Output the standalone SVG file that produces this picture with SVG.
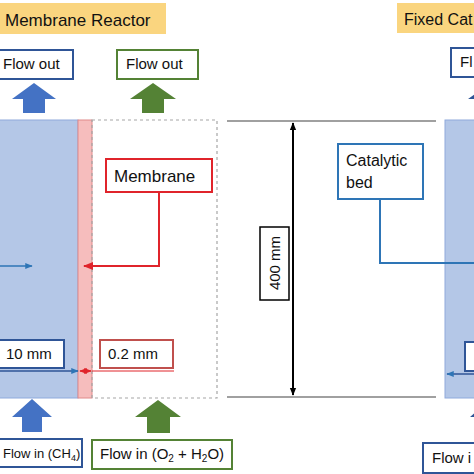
<svg xmlns="http://www.w3.org/2000/svg" width="474" height="474" viewBox="0 0 474 474">
<style>
text{font-family:"Liberation Sans",Arial,sans-serif;fill:#111;}
.lbl{font-size:15px;}
.title{fill:#FAD57F;}
.bx{fill:#fff;stroke-width:2;}
.blue{stroke:#2F5597;}
.lblue{stroke:#2E75B6;}
.green{stroke:#548235;}
.red{stroke:#E0242B;}
.dred{stroke:#C0504D;}
.bed{fill:#B4C7E7;stroke:#8FAADC;stroke-width:1;}
.grey{stroke:#808080;stroke-width:1.5;fill:none;}
</style>
<defs>
<marker id="ab" viewBox="0 0 10 10" refX="9" refY="5" markerWidth="5" markerHeight="5" orient="auto-start-reverse"><path d="M0,1 L10,5 L0,9 z" fill="#2E75B6"/></marker>
<marker id="ar" viewBox="0 0 10 10" refX="9" refY="5" markerWidth="5" markerHeight="5" orient="auto-start-reverse"><path d="M0,1 L10,5 L0,9 z" fill="#E0242B"/></marker>
<marker id="ak" viewBox="0 0 10 10" refX="9" refY="5" markerWidth="4" markerHeight="4" orient="auto-start-reverse"><path d="M0,1 L10,5 L0,9 z" fill="#000"/></marker>
</defs>

<g id="reactor-left">
<rect x="-2" y="120" width="80" height="278" class="bed"/>
<rect x="78" y="120" width="14" height="278" fill="#F6BDBD" stroke="#E08A8A" stroke-width="1"/>
<rect x="92" y="120" width="125" height="278" fill="none" stroke="#A6A6A6" stroke-width="1.2" stroke-dasharray="3,3"/>
</g>
<g id="reactor-right">
<rect x="445" y="120" width="40" height="278" class="bed"/>
</g>

<g id="title-membrane"><rect x="-2" y="3" width="168" height="31" class="title"/><text x="5" y="26" style="font-size:17px">Membrane Reactor</text></g>
<g id="title-fixed"><rect x="397" y="3" width="90" height="30" class="title"/><text x="404" y="25" style="font-size:16px">Fixed Cat</text></g>

<g id="flowout-blue"><rect x="-5" y="50" width="78" height="29" class="bx blue"/><text x="3" y="69" class="lbl">Flow out</text></g>
<g id="flowout-green"><rect x="117" y="50" width="81" height="29" class="bx green"/><text x="126" y="69" class="lbl">Flow out</text></g>
<g id="flowout-right"><rect x="451" y="48" width="40" height="29" class="bx blue"/><text x="460" y="67" class="lbl">Fl</text></g>

<g id="membrane-label"><rect x="106" y="159" width="106" height="33" class="bx red"/><text x="114" y="182" style="font-size:17px">Membrane</text></g>
<g id="catalytic-label"><rect x="338" y="144" width="85" height="55" class="bx lblue"/><text x="346" y="166" style="font-size:16px">Catalytic</text><text x="346" y="188" style="font-size:16px">bed</text></g>
<g id="dim-400"><rect x="260" y="227" width="29" height="73" fill="#fff" stroke="#000" stroke-width="1.5"/><text transform="translate(280,263) rotate(-90)" text-anchor="middle" class="lbl">400 mm</text></g>
<g id="dim-10"><rect x="-5" y="340" width="69" height="28" class="bx blue"/><text x="6" y="359" class="lbl">10 mm</text></g>
<g id="dim-02"><rect x="100" y="340" width="73" height="28" class="bx dred"/><text x="108" y="359" class="lbl">0.2 mm</text></g>
<g id="dim-right"><rect x="465" y="342" width="30" height="29" class="bx blue"/></g>

<g id="flowin-blue"><rect x="-40" y="439" width="122" height="28" class="bx blue"/><text x="3" y="458" style="font-size:13px">Flow in (CH<tspan font-size="9" dy="3">4</tspan><tspan dy="-3">)</tspan></text></g>
<g id="flowin-green"><rect x="92" y="440" width="140" height="29" class="bx green"/><text x="100" y="459" class="lbl">Flow in (O<tspan font-size="10" dy="3">2</tspan><tspan dy="-3"> + H</tspan><tspan font-size="10" dy="3">2</tspan><tspan dy="-3">O)</tspan></text></g>
<g id="flowin-right"><rect x="423" y="443" width="70" height="30" class="bx blue"/><text x="432" y="463" class="lbl">Flow i</text></g>

<g id="connectors">
<polygon points="34,83 56,99 45,99 45,113 23,113 23,99 12,99" fill="#4472C4"/>
<polygon points="153,83 176,99 164,99 164,113 142,113 142,99 130,99" fill="#548235"/>
<polygon points="490,83 512,99 501,99 501,113 479,113 479,99 468,99" fill="#2F5597"/>
<polygon points="32,399 52,417 42,417 42,432 22,432 22,417 12,417" fill="#4472C4"/>
<polygon points="158,400 181,417 170,417 170,433 147,433 147,417 135,417" fill="#548235"/>
<polygon points="490,399 510,417 500,417 500,432 480,432 480,417 470,417" fill="#2F5597"/>
<line x1="227" y1="121" x2="436" y2="121" class="grey"/>
<line x1="227" y1="397" x2="436" y2="397" class="grey"/>
<line x1="293" y1="123" x2="293" y2="395" stroke="#000" stroke-width="2" marker-start="url(#ak)" marker-end="url(#ak)"/>
<polyline points="159,192 159,266 84,266" fill="none" stroke="#E0242B" stroke-width="2" marker-end="url(#ar)"/>
<line x1="0" y1="266" x2="32" y2="266" stroke="#2E75B6" stroke-width="1.5" marker-end="url(#ab)"/>
<polyline points="380,199 380,263 476,263" fill="none" stroke="#2E75B6" stroke-width="2"/>
<line x1="0" y1="371" x2="78" y2="371" stroke="#2F5597" stroke-width="1.5" marker-end="url(#ab)"/>
<line x1="80" y1="371" x2="91" y2="371" stroke="#E0242B" stroke-width="1.5" marker-start="url(#ar)" marker-end="url(#ar)"/>
<line x1="92" y1="371" x2="174" y2="371" stroke="#E0242B" stroke-width="1"/>
<line x1="447" y1="374" x2="476" y2="374" stroke="#2F5597" stroke-width="1.5" marker-start="url(#ab)"/>
</g>
</svg>
